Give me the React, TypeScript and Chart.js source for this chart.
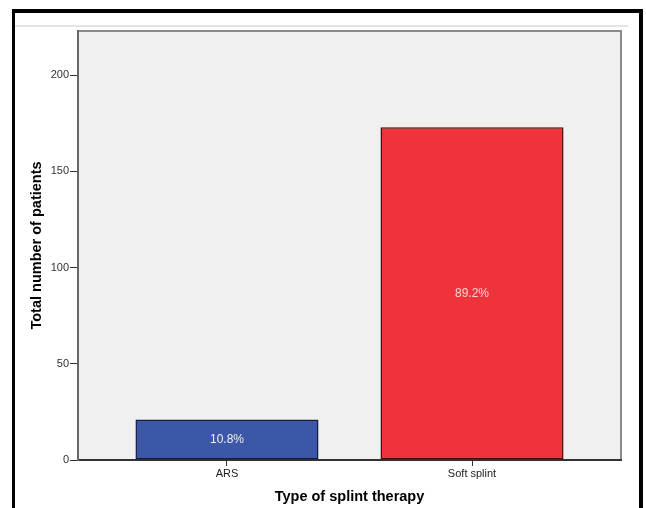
import React, { useEffect, useRef } from "react";
import { Chart, registerables } from "chart.js";

Chart.register(...registerables);

const categories = ["ARS", "Soft splint"];
const patientCounts = [21, 173];
const percentLabels = ["10.8%", "89.2%"];
const barColors = ["rgb(60,86,168)", "rgb(239,51,59)"];
const barBorders = ["#141c40", "#4a0c0c"];
const yTicks = [0, 50, 100, 150, 200];

const framePlugin = {
  id: "framePlugin",
  beforeDraw(chart: any) {
    const { ctx, chartArea } = chart;
    ctx.save();
    ctx.fillStyle = "#ffffff";
    ctx.fillRect(0, 0, chart.width, chart.height);
    // faint frame line
    ctx.fillStyle = "#e4e4e4";
    ctx.fillRect(15, 25, 613, 2);
    // plot background
    ctx.fillStyle = "#f0f0f0";
    ctx.fillRect(chartArea.left, chartArea.top, chartArea.right - chartArea.left, chartArea.bottom - chartArea.top);
    ctx.strokeStyle = "#8a8a8a";
    ctx.lineWidth = 2;
    ctx.beginPath();
    ctx.moveTo(chartArea.left, chartArea.top);
    ctx.lineTo(chartArea.right, chartArea.top);
    ctx.lineTo(chartArea.right, chartArea.bottom);
    ctx.stroke();
    ctx.restore();
  },
  afterDraw(chart: any) {
    const { ctx } = chart;
    ctx.save();
    // percentage labels
    const meta = chart.getDatasetMeta(0);
    ctx.font = "12px 'Liberation Sans', Arial, sans-serif";
    ctx.textAlign = "center";
    ctx.textBaseline = "middle";
    meta.data.forEach((bar: any, i: number) => {
      ctx.fillStyle = i === 0 ? "rgba(255,255,255,0.92)" : "rgba(255,235,235,0.88)";
      const mid = (bar.y + bar.base) / 2;
      ctx.fillText(percentLabels[i], bar.x, mid);
    });
    // black outer frame
    ctx.fillStyle = "#000";
    ctx.fillRect(12, 9, 631, 4);
    ctx.fillRect(12, 9, 3, chart.height - 9);
    ctx.fillRect(639, 9, 4, chart.height - 9);
    ctx.restore();
  },
};

function App() {
  const ref = useRef<HTMLCanvasElement | null>(null);
  useEffect(() => {
    if (!ref.current) return;
    const chart = new Chart(ref.current, {
      type: "bar",
      data: {
        datasets: [
          {
            data: patientCounts.map((v, i) => ({ x: i, y: v })),
            backgroundColor: barColors,
            borderColor: barBorders,
            borderWidth: 1.5,
            borderSkipped: false,
            categoryPercentage: 1,
            barPercentage: 0.747,
          },
        ],
      },
      options: {
        animation: false,
        responsive: false,
        devicePixelRatio: 1,
        layout: { padding: { left: 0, top: 31, right: 25, bottom: 0 } },
        plugins: { legend: { display: false }, tooltip: { enabled: false } },
        scales: {
          x: {
            type: "linear",
            min: -0.608,
            max: 1.608,
            offset: false,
            afterBuildTicks: (scale: any) => {
              scale.ticks = categories.map((_, i) => ({ value: i }));
            },
            afterFit: (scale: any) => {
              scale.height = 48;
            },
            ticks: {
              callback: (v: any) => categories[v] ?? "",
              font: { family: "'Liberation Sans', Arial, sans-serif", size: 11 },
              color: "#222",
              padding: 1,
              autoSkip: false,
              maxRotation: 0,
            },
            grid: { display: true, offset: false, drawOnChartArea: false, tickLength: 6, color: "#333", lineWidth: 1 },
            border: { display: true, color: "#333", width: 2 },
            title: {
              display: true,
              text: "Type of splint therapy",
              font: { family: "'Liberation Sans', Arial, sans-serif", size: 14.5, weight: "bold" },
              color: "#000",
              padding: { top: 0, bottom: 2 },
            },
          },
          y: {
            min: 0,
            max: 223,
            afterBuildTicks: (scale: any) => {
              scale.ticks = yTicks.map((v) => ({ value: v }));
            },
            afterFit: (scale: any) => {
              scale.width = 78;
            },
            ticks: {
              font: { family: "'Liberation Sans', Arial, sans-serif", size: 11 },
              color: "#333",
              padding: 1,
            },
            grid: { display: true, drawOnChartArea: false, tickLength: 8, color: "#333", lineWidth: 1 },
            border: { display: true, color: "#666", width: 2 },
            title: {
              display: true,
              text: "Total number of patients",
              font: { family: "'Liberation Sans', Arial, sans-serif", size: 14.5, weight: "bold" },
              color: "#000",
              padding: { top: 28, bottom: 0 },
            },
          },
        },
      },
      plugins: [framePlugin],
    } as any);
    return () => chart.destroy();
  }, []);
  return (
    <div style={{ position: "fixed", left: 0, top: 0, width: 646, height: 508, background: "#fff" }}>
      <canvas ref={ref} width={646} height={508} style={{ display: "block", width: 646, height: 508 }} />
    </div>
  );
}

export default App;
